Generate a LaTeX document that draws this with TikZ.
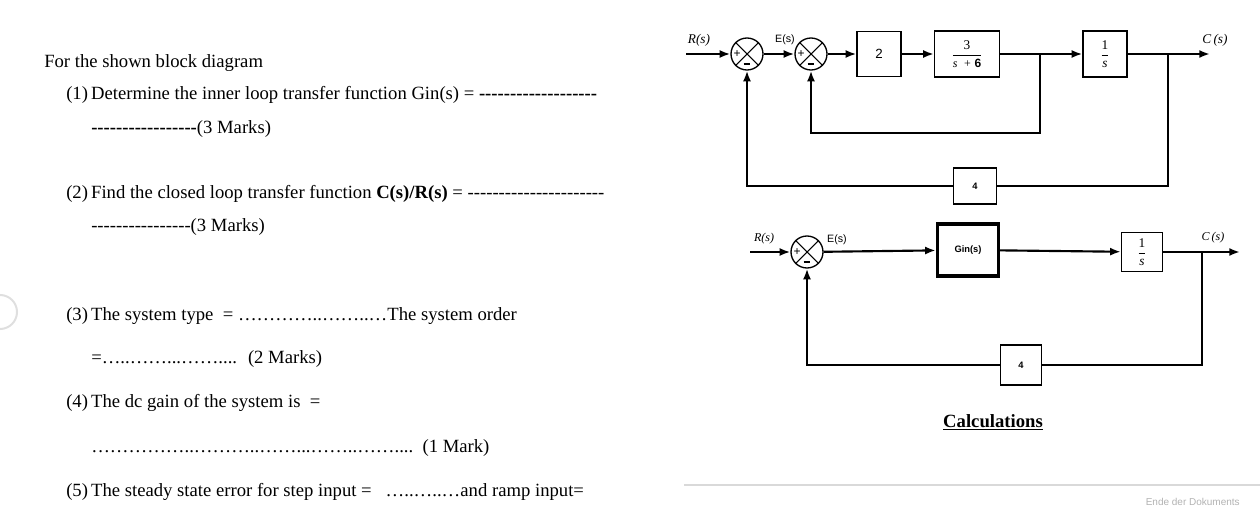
\documentclass[tikz,border=0pt]{standalone}
\usepackage{fontspec}
\setmainfont{Liberation Serif}
\newfontfamily\sansf{Liberation Sans}
\usetikzlibrary{arrows.meta}
\newcommand\dsh[1]{\foreach \i in {1,...,#1}{-\kern0pt}}
\newcommand\bigfr[2]{$\displaystyle\frac{\mbox{#1}}{\mbox{#2}}$}
\begin{document}
\begin{tikzpicture}[x=0.75pt,y=-0.75pt,
  txt/.style={anchor=base west,inner sep=0,font=\fontsize{14}{16}\selectfont},
  blk/.style={draw,line width=1pt,inner sep=0,minimum width=#1},
  sum/.style={draw,circle,line width=1pt,minimum size=32*0.75pt,inner sep=0},
  sig/.style={line width=1.6pt,-{Latex[length=8pt,width=6pt]}},
  wire/.style={line width=1.6pt},
  pm/.style={font=\sansf\fontsize{9}{9}\selectfont,inner sep=0},
  lab/.style={font=\sansf\fontsize{8}{9}\selectfont,inner sep=0}]
\useasboundingbox (0,0) rectangle (1260,506);
% left text
\node[txt] (t0) at (44,68) {For the shown block diagram};
\node[txt] (t1) at (66,100) {(1)\,Determine the inner loop transfer function Gin(s) = \textbf{\dsh{19}}};
\node[txt] (t2) at (91,134) {\textbf{\dsh{17}}(3 Marks)};
\node[txt] (t3) at (66,199) {(2)\,Find the closed loop transfer function \textbf{C(s)/R(s)} = \dsh{22}};
\node[txt] (t4) at (91,232) {\dsh{16}(3 Marks)};
\node[txt] (t5) at (66,320) {(3)\,The system type\ \ = \dots\dots\dots\dots..\dots\dots..\dots The system order};
\node[txt] (t6) at (91,363) {=\dots..\dots\dots...\dots\dots.... \ (2 Marks)};
\node[txt] (t7) at (66,407) {(4)\,The dc gain of the system is\ \ =};
\node[txt] (t8) at (91,452) {\dots\dots\dots\dots\dots..\dots\dots\dots..\dots\dots...\dots\dots..\dots\dots....\ \ (1 Mark)};
\node[txt] (t9) at (66,496) {(5)\,The steady state error for step input =\ \ \ \dots..\dots..\dots and ramp input=};
\draw[gray!25,line width=1.5pt] (0,312) circle (17);
% top diagram
\coordinate (in1) at (686,54);
\node[sum] (s1) at (747,54) {};
\node[sum] (s2) at (811,54) {};
\node[blk=44*0.75pt,minimum height=45*0.75pt] (b2) at (879,54) {\sansf 2};
\node[blk=65*0.75pt,minimum height=46*0.75pt] (b3) at (967,54) {\bigfr{3}{\fontsize{9}{9}\selectfont\itshape s\ \ + \upshape\bfseries\sansf 6}};
\node[blk=44*0.75pt,minimum height=46*0.75pt] (b1s) at (1105,54) {\bigfr{1}{\itshape s}};
\node[blk=43*0.75pt,minimum height=36*0.75pt] (b4) at (975,186) {\sansf\fontsize{7}{7}\selectfont\bfseries 4};
\coordinate (br1) at (1040,54);
\coordinate (br2) at (1168,54);
\coordinate (out1) at (1210,54);
\foreach \s in {s1,s2}{
 \draw[line width=0.8pt] (\s.45)--(\s.225) (\s.135)--(\s.315);
 \node[pm] at ([xshift=-7.5]\s.center) {+};
 \node[pm] at ([yshift=-7.5]\s.center) {\rule{5pt}{0.8pt}};}
\draw[sig] (in1)--(s1);
\draw[sig] (s1)--(s2);
\draw[sig] (s2)--(b2);
\draw[sig] (b2)--(b3);
\draw[sig] (b3)--(b1s);
\draw[sig] (b1s.east)--(out1);
\draw[sig] (br1)--(1040,133)--(811,133)--(s2.south);
\draw[wire] (br2)--(1168,186)--(b4.east);
\draw[sig] (b4.west)--(747,186)--(s1.south);
\node[inner sep=0] (lR1) at (699,40) {\itshape R(s)};
\node[lab] (lE1) at (785,40) {E(s)};
\node[inner sep=0] (lC1) at (1215,40) {\itshape C\,(s)};
% bottom diagram
\coordinate (in2) at (750,252);
\node[sum] (s3) at (807,252) {};
\draw[line width=0.8pt] (s3.45)--(s3.225) (s3.135)--(s3.315);
\node[pm] at ([xshift=-7.5]s3.center) {+};
\node[pm] at ([yshift=-7.5]s3.center) {\rule{5pt}{0.8pt}};
\node[draw,line width=2.5pt,minimum width=61*0.75pt,minimum height=52*0.75pt,inner sep=0] (gin) at (968,250) {\sansf\fontsize{7}{7}\selectfont\bfseries Gin(s)};
\node[blk=41*0.75pt,minimum height=39*0.75pt] (b1s2) at (1142,252) {\bigfr{1}{\itshape s}};
\node[blk=41*0.75pt,minimum height=40*0.75pt] (b42) at (1021,365) {\sansf\fontsize{7}{7}\selectfont\bfseries 4};
\coordinate (br3) at (1202,252);
\coordinate (out2) at (1240,252);
\draw[sig] (in2)--(s3);
\draw[sig] (s3)--(gin);
\draw[sig] (gin)--(b1s2);
\draw[sig] (b1s2.east)--(out2);
\draw[wire] (br3)--(1202,365)--(b42.east);
\draw[sig] (b42.west)--(807,365)--(s3.south);
\node[inner sep=0,font=\small] (lR2) at (764,239) {\itshape R(s)};
\node[lab] (lE2) at (837,240) {E(s)};
\node[inner sep=0,font=\small] (lC2) at (1213,238) {\itshape C\,(s)};
\node[font=\fontsize{14}{16}\selectfont\bfseries,inner sep=0] (calc) at (993,422) {\underline{Calculations}};
\draw[gray!30,line width=0.8pt] (684,485)--(1260,485);
\node[anchor=base east,text=gray!60,font=\sansf\fontsize{7.5}{9}\selectfont,inner sep=0] (ende) at (1240,505) {Ende der Dokuments};
\end{tikzpicture}
\end{document}
